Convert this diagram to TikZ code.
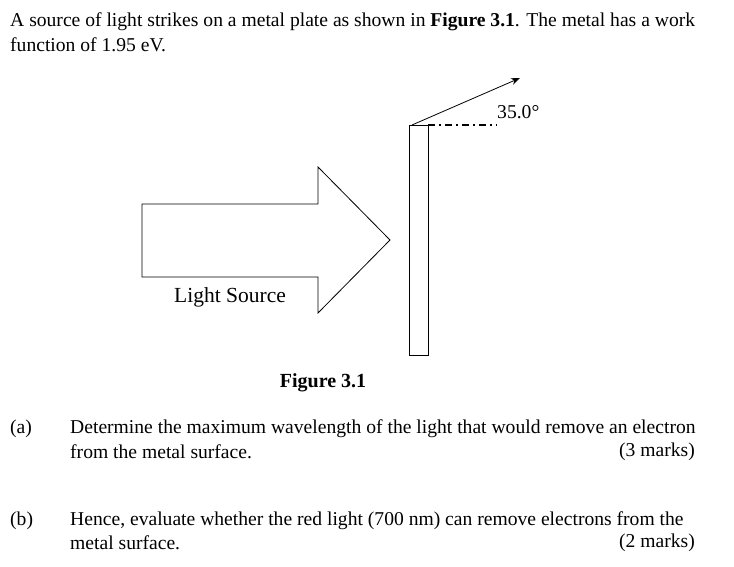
\documentclass[tikz,border=0pt]{standalone}
\usepackage{fontspec}
\setmainfont{Liberation Serif}
\usetikzlibrary{arrows.meta}
\begin{document}
\begin{tikzpicture}[x=1pt,y=-1pt,
  txt/.style={anchor=west,inner sep=0pt,font=\fontsize{19.6}{22}\selectfont},
  rtxt/.style={anchor=east,inner sep=0pt,font=\fontsize{19.6}{22}\selectfont},
  outl/.style={draw,line width=0.8pt}]
\useasboundingbox (0,0) rectangle (734,567);
\node[txt] (l1) at (10,22) {A source of light strikes on a metal plate as shown in \textbf{Figure 3.1}. The metal has a work};
\node[txt] (l2) at (10,45) {function of 1.95 eV.};
\draw[outl] (409,125) rectangle (428,355);
\node (plate) at (412,125) [inner sep=0pt] {};
\coordinate (etip) at (520,78);
\draw[line width=0.8pt,-{Stealth[length=9pt,width=7pt]}] (plate.center) -- (etip);
\coordinate (dend) at (497,125);
\draw[line width=1.2pt,dash pattern=on 7pt off 4pt on 2pt off 4pt] (428,125) -- (dend);
\node[txt] (ang) at (497,112) {35.0°};
\draw[outl] (142,204) -- (318,204) -- (318,167) -- (390,240) -- (318,313) -- (318,277) -- (142,277) -- cycle;
\node[font=\fontsize{21.5}{24}\selectfont,inner sep=0pt] (ls) at (230,297) {Light Source};
\node[font=\bfseries\fontsize{20}{22}\selectfont,inner sep=0pt] (fig) at (323,383) {Figure 3.1};
\node[txt] (a) at (10,429) {(a)};
\node[txt] (a1) at (70,429) {Determine the maximum wavelength of the light that would remove an electron};
\node[txt] (a2) at (70,452) {from the metal surface.};
\node[rtxt] (a3) at (695,452) {(3 marks)};
\node[txt] (b) at (10,521) {(b)};
\node[txt] (b1) at (70,521) {Hence, evaluate whether the red light (700 nm) can remove electrons from the};
\node[txt] (b2) at (70,543) {metal surface.};
\node[rtxt] (b3) at (695,543) {(2 marks)};
\end{tikzpicture}
\end{document}
